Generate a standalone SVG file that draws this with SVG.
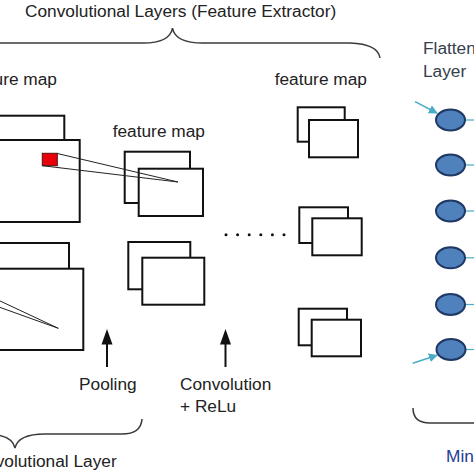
<svg xmlns="http://www.w3.org/2000/svg" width="474" height="474" viewBox="0 0 474 474">
<defs>
<style>
.t{font-family:"Liberation Sans",Arial,sans-serif;font-size:17.3px;fill:#222}
.fm{fill:#fff;stroke:#111;stroke-width:2}
.br{fill:none;stroke:#3a3a3a;stroke-width:1.5}
.thin{stroke:#222;stroke-width:1;fill:none}
.nd{fill:#4f81bd;stroke:#1f3864;stroke-width:2}
.ln{stroke:#4bacc6;stroke-width:1.2}
.ta{stroke:#4bacc6;stroke-width:1.5}
</style>
<marker id="tealHead" viewBox="0 0 10 10" refX="9" refY="5" markerWidth="9" markerHeight="9" orient="auto" markerUnits="userSpaceOnUse">
<path d="M0,0 L10,5 L0,10 z" fill="#4bacc6"/>
</marker>
</defs>
<rect width="474" height="474" fill="#fff"/>

<g id="title">
<text class="t" x="25" y="16.5">Convolutional Layers (Feature Extractor)</text>
</g>
<g id="braces">
<path class="br" d="M-5 43 H143 Q170 43 172.5 28 Q175 43 203 43 H350 Q378 44 380 58"/>
<path class="br" d="M-15 434 Q12 434 15 448 Q18 434 45 434 H122 Q141 434 142 419"/>
<path class="br" d="M413 408 Q413 423 430 423 H480"/>
</g>

<g id="input-map-1">
<text class="t" x="57" y="85" text-anchor="end">feature map</text>
<rect class="fm" x="-10" y="115.7" width="74.3" height="40"/>
<rect class="fm" x="-10" y="140" width="89.7" height="82"/>
<rect x="42.3" y="153.3" width="15" height="12.4" fill="#e8000b" stroke="#5a1010" stroke-width="1"/>
</g>
<g id="input-map-2">
<rect class="fm" x="-10" y="243" width="79" height="40"/>
<rect class="fm" x="-10" y="268.7" width="93.3" height="81.3"/>
</g>

<g id="conv-map-1">
<text class="t" x="112.7" y="137">feature map</text>
<rect class="fm" x="124.7" y="151.7" width="65.3" height="51.3"/>
<rect class="fm" x="138.7" y="168.7" width="64.3" height="47.3"/>
</g>
<g id="conv-map-2">
<rect class="fm" x="128.3" y="242" width="62" height="47.3"/>
<rect class="fm" x="142.3" y="257.7" width="62" height="47"/>
</g>

<g id="pool-map-1">
<text class="t" x="274.7" y="85">feature map</text>
<rect class="fm" x="297.7" y="107.3" width="47" height="34.4"/>
<rect class="fm" x="309" y="120" width="49" height="37.3"/>
</g>
<g id="pool-map-2">
<rect class="fm" x="299.3" y="207.3" width="48.7" height="35.7"/>
<rect class="fm" x="312.3" y="218.3" width="49.4" height="37"/>
</g>
<g id="pool-map-3">
<rect class="fm" x="298.7" y="308.7" width="48.3" height="36.6"/>
<rect class="fm" x="311.7" y="319.7" width="49.3" height="36.6"/>
</g>

<g id="ellipsis" fill="#111">
<circle cx="226" cy="234.7" r="1.5"/>
<circle cx="237.6" cy="234.7" r="1.5"/>
<circle cx="249.2" cy="234.7" r="1.5"/>
<circle cx="260.8" cy="234.7" r="1.5"/>
<circle cx="272.4" cy="234.7" r="1.5"/>
<circle cx="284" cy="234.7" r="1.5"/>
</g>

<g id="labels">
<text class="t" x="79" y="390">Pooling</text>
<text class="t" x="180" y="389.5">Convolution</text>
<text class="t" x="180" y="412">+ ReLu</text>
<text class="t" x="116.7" y="467" text-anchor="end">Convolutional Layer</text>
</g>

<g id="flatten-label">
<text class="t" x="423" y="54" style="fill:#36404c">Flatten</text>
<text class="t" x="423" y="76.5" style="fill:#36404c">Layer</text>
</g>
<g id="mlp-label">
<text class="t" x="446" y="462" style="fill:#1f3c96">Min</text>
</g>

<g id="connectors">
<line class="thin" x1="57.3" y1="153.5" x2="178" y2="182"/>
<line class="thin" x1="42.3" y1="165.7" x2="178" y2="182"/>
<line class="thin" x1="-2" y1="300" x2="58.3" y2="328.3"/>
<line class="thin" x1="-2" y1="306.7" x2="58.3" y2="328.3"/>
<line x1="107" y1="367" x2="107" y2="343" stroke="#111" stroke-width="2"/>
<path d="M107 329 L101.5 344.5 L112.5 344.5 z" fill="#111"/>
<line x1="225.5" y1="367" x2="225.5" y2="343" stroke="#111" stroke-width="2"/>
<path d="M225.5 329 L220 344.5 L231 344.5 z" fill="#111"/>
<line class="ta" x1="415" y1="101.7" x2="437" y2="113" marker-end="url(#tealHead)"/>
<line class="ta" x1="412.7" y1="363.3" x2="437" y2="355.2" marker-end="url(#tealHead)"/>
<line class="ln" x1="465" y1="120" x2="474" y2="120"/>
<line class="ln" x1="465" y1="165" x2="474" y2="165"/>
<line class="ln" x1="465" y1="211" x2="474" y2="211"/>
<line class="ln" x1="465" y1="257.8" x2="474" y2="257.8"/>
<line class="ln" x1="465" y1="304.5" x2="474" y2="304.5"/>
<line class="ln" x1="465" y1="349.5" x2="474" y2="349.5"/>
</g>

<g id="flatten-nodes">
<ellipse id="n1" class="nd" cx="450.5" cy="120" rx="14.5" ry="10.5"/>
<ellipse id="n2" class="nd" cx="450.5" cy="165" rx="14.5" ry="10.5"/>
<ellipse id="n3" class="nd" cx="450.5" cy="211" rx="14.5" ry="10.5"/>
<ellipse id="n4" class="nd" cx="450.5" cy="257.8" rx="14.5" ry="10.5"/>
<ellipse id="n5" class="nd" cx="450.5" cy="304.5" rx="14.5" ry="10.5"/>
<ellipse id="n6" class="nd" cx="451" cy="349.5" rx="14.5" ry="10.5"/>
</g>
</svg>
